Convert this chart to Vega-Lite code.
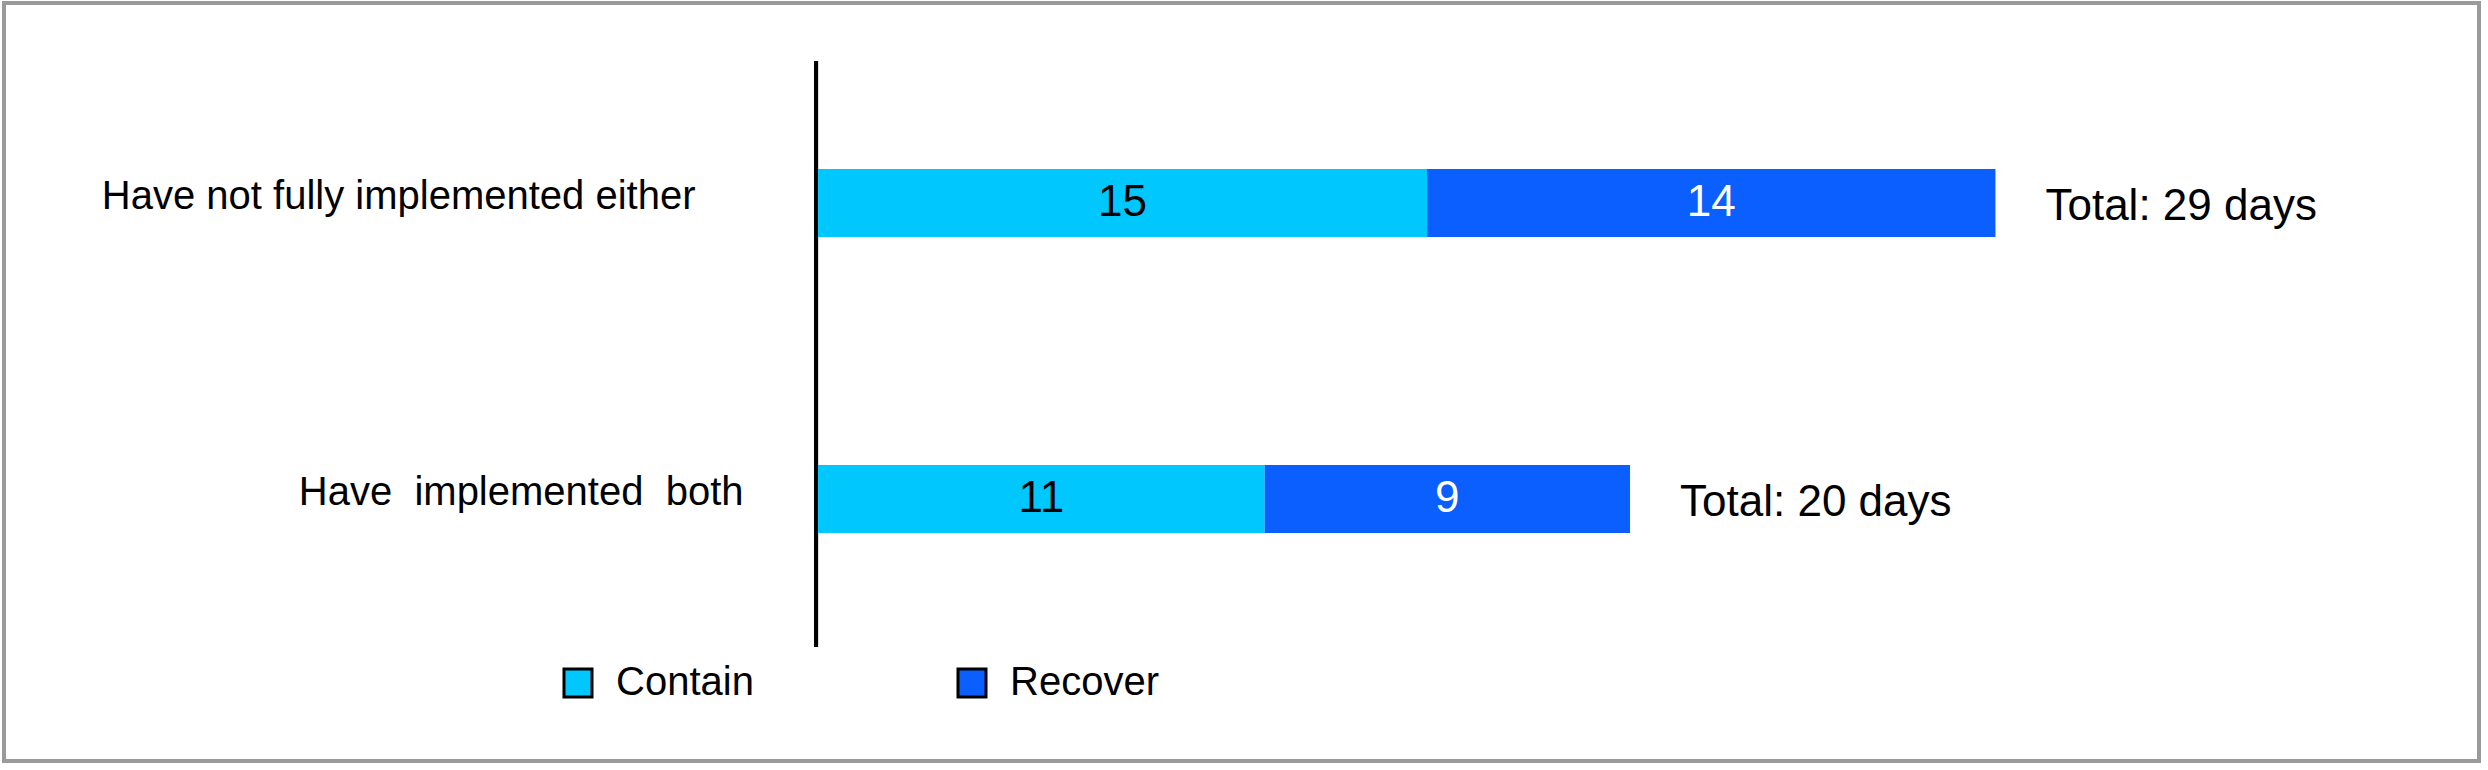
{
  "$schema": "https://vega.github.io/schema/vega-lite/v6.json",
  "width": 2488,
  "height": 770,
  "autosize": {"type": "fit", "contains": "padding"},
  "padding": {"left": 4, "top": 3, "right": 9, "bottom": 9},
  "background": "white",
  "config": {
    "font": "Liberation Sans",
    "view": {"stroke": "#9a9a9a", "strokeWidth": 4}
  },
  "data": {
    "values": [
      {"group": "Have not fully implemented either", "stage": "Contain", "days": 15},
      {"group": "Have not fully implemented either", "stage": "Recover", "days": 14},
      {"group": "Have  implemented  both", "stage": "Contain", "days": 11},
      {"group": "Have  implemented  both", "stage": "Recover", "days": 9}
    ]
  },
  "transform": [
    {"stack": "days", "groupby": ["group"], "sort": [{"field": "stage", "order": "ascending"}], "as": ["d0", "d1"]}
  ],
  "encoding": {
    "y": {
      "field": "group",
      "type": "nominal",
      "sort": null,
      "scale": {
        "domain": ["Have not fully implemented either", "Have  implemented  both"],
        "paddingInner": 0.7703,
        "paddingOuter": 0.6656,
        "align": 0.4213
      },
      "axis": {
        "orient": "left",
        "offset": -814,
        "domain": false,
        "ticks": false,
        "tickSize": 0,
        "grid": false,
        "title": null,
        "labelFont": "Liberation Sans",
        "labelFontSize": 40,
        "labelColor": "black",
        "labelAlign": "right",
        "labelBaseline": "middle",
        "labelOffset": -6,
        "labelLimit": 1000,
        "labelPadding": {
          "condition": {"test": "datum.value == 'Have not fully implemented either'", "value": 123},
          "value": 75
        },
        "labelExpr": "replace(datum.label, regexp('  ', 'g'), ' \u00a0')"
      }
    }
  },
  "layer": [
    {
      "mark": {"type": "rule", "color": "black", "strokeWidth": 4, "xOffset": -2},
      "encoding": {
        "x": {"datum": 0, "type": "quantitative", "scale": {"domain": [-20.05, 40.91], "nice": false, "zero": false}, "axis": null},
        "y": {"datum": "Have not fully implemented either", "type": "nominal", "bandPosition": -1.588},
        "y2": {"datum": "Have  implemented  both", "bandPosition": 2.676}
      }
    },
    {
      "mark": {"type": "bar"},
      "encoding": {
        "x": {"field": "d0", "type": "quantitative", "scale": {"domain": [-20.05, 40.91], "nice": false, "zero": false}, "axis": null},
        "x2": {"field": "d1"},
        "color": {
          "field": "stage",
          "type": "nominal",
          "scale": {"domain": ["Contain", "Recover"], "range": ["#00C8FF", "#0B5FFF"]},
          "legend": {
            "orient": "none",
            "legendX": 554,
            "legendY": 660,
            "direction": "horizontal",
            "title": null,
            "symbolType": "square",
            "symbolSize": 784,
            "symbolStrokeColor": "black",
            "symbolStrokeWidth": 3,
            "symbolOpacity": 1,
            "labelFont": "Liberation Sans",
            "labelFontSize": 40,
            "labelColor": "black",
            "labelOffset": 18,
            "labelLimit": 400,
            "columnPadding": 198,
            "padding": 0,
            "encode": {"symbols": {"update": {"stroke": {"value": "black"}, "strokeWidth": {"value": 3}}}}
          }
        }
      }
    },
    {
      "mark": {"type": "text", "fontSize": 44, "align": "center", "baseline": "middle"},
      "encoding": {
        "x": {"field": "days", "type": "quantitative", "stack": "zero", "bandPosition": 0.5, "scale": {"domain": [-20.05, 40.91], "nice": false, "zero": false}, "axis": null},
        "detail": {"field": "stage", "type": "nominal"},
        "order": {"field": "stage", "sort": "ascending"},
        "text": {"field": "days", "type": "quantitative"},
        "color": {"condition": {"test": "datum.stage == 'Recover'", "value": "white"}, "value": "black"}
      }
    },
    {
      "transform": [{"filter": "datum.stage == 'Recover'"}],
      "mark": {
        "type": "text",
        "fontSize": 44,
        "align": "left",
        "baseline": "middle",
        "dx": 50,
        "dy": 4,
        "color": "black",
        "text": {"expr": "'Total: ' + datum.d1 + ' days'"}
      },
      "encoding": {
        "x": {"field": "d1", "type": "quantitative", "scale": {"domain": [-20.05, 40.91], "nice": false, "zero": false}, "axis": null}
      }
    }
  ]
}
